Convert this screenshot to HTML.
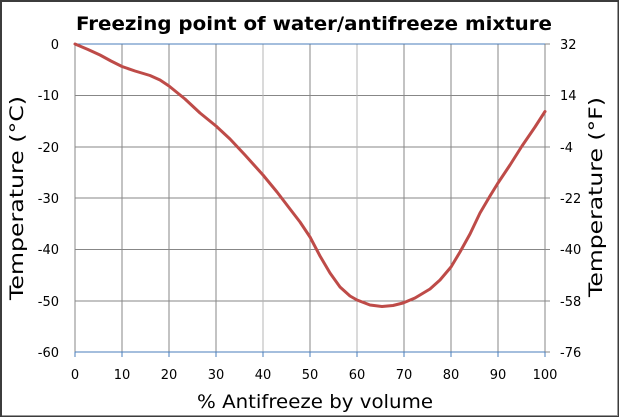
<!DOCTYPE html>
<html><head><meta charset="utf-8"><style>
html,body{margin:0;padding:0;background:#fff;}
svg{display:block;}
text{font-family:"DejaVu Sans","Liberation Sans",sans-serif;fill:#000;}
</style></head><body>
<svg width="620" height="418" viewBox="0 0 620 418" xmlns="http://www.w3.org/2000/svg">
<rect x="0" y="0" width="620" height="418" fill="#fff"/>
<rect x="1" y="1" width="617" height="415" fill="none" stroke="#3c3c3c" stroke-width="2"/>
<line x1="2" y1="415.5" x2="618" y2="415.5" stroke="#9a9a9a" stroke-width="1"/>
<line x1="617.5" y1="2" x2="617.5" y2="416" stroke="#9a9a9a" stroke-width="1"/>

<text x="314" y="30" font-size="19" font-weight="bold" text-anchor="middle" textLength="476" lengthAdjust="spacingAndGlyphs">Freezing point of water/antifreeze mixture</text>

<g stroke="#878787" stroke-width="1" shape-rendering="crispEdges">
<line x1="75" y1="95.5" x2="550" y2="95.5"/>
<line x1="75" y1="147" x2="550" y2="147"/>
<line x1="75" y1="198" x2="550" y2="198"/>
<line x1="75" y1="249.5" x2="550" y2="249.5"/>
<line x1="75" y1="301" x2="550" y2="301"/>
<line x1="545" y1="44" x2="550" y2="44"/>
<line x1="545" y1="352" x2="550" y2="352"/>
<line x1="75" y1="44" x2="75" y2="352"/>
<line x1="122" y1="44" x2="122" y2="352"/>
<line x1="169" y1="44" x2="169" y2="352"/>
<line x1="216" y1="44" x2="216" y2="352"/>
<line x1="263" y1="44" x2="263" y2="352" stroke="#b5b5b5"/>
<line x1="310" y1="44" x2="310" y2="352"/>
<line x1="357" y1="44" x2="357" y2="352" stroke="#b5b5b5"/>
<line x1="404" y1="44" x2="404" y2="352"/>
<line x1="451" y1="44" x2="451" y2="352"/>
<line x1="498" y1="44" x2="498" y2="352"/>
<line x1="545" y1="44" x2="545" y2="352"/>
</g>
<g stroke="#4a7ebb" stroke-width="1" shape-rendering="crispEdges">
<line x1="75" y1="44" x2="545" y2="44"/>
<line x1="75" y1="352" x2="545" y2="352"/>
<line x1="75" y1="352" x2="75" y2="357"/>
<line x1="122" y1="352" x2="122" y2="357"/>
<line x1="169" y1="352" x2="169" y2="357"/>
<line x1="216" y1="352" x2="216" y2="357"/>
<line x1="263" y1="352" x2="263" y2="357"/>
<line x1="310" y1="352" x2="310" y2="357"/>
<line x1="357" y1="352" x2="357" y2="357"/>
<line x1="404" y1="352" x2="404" y2="357"/>
<line x1="451" y1="352" x2="451" y2="357"/>
<line x1="498" y1="352" x2="498" y2="357"/>
<line x1="545" y1="352" x2="545" y2="357"/>
</g>

<polyline fill="none" stroke="#be4b48" stroke-width="3" stroke-linejoin="round" stroke-linecap="round"
points="75,44 88,49.5 100,55 111,61 122,66.5 135,71 150,75.5 160,80 169,86 185,99 200,113 216,126 230,139 245,155 263,175 277,192 290,209 300,222 310,237 320,256 330,273 340,287 350,296 357,300 370,305 382,306.5 393,305.5 403,303 415,298 430,289 440,280 451,267 460,252 470,234 480,213 490,196 498,183 510,165 522,146 535,127 545,111.5"/>

<g font-size="13" text-anchor="end">
<text x="59" y="49">0</text>
<text x="59" y="100">-10</text>
<text x="59" y="152">-20</text>
<text x="59" y="203">-30</text>
<text x="59" y="254">-40</text>
<text x="59" y="306">-50</text>
<text x="59" y="357">-60</text>
</g>
<g font-size="13" text-anchor="start">
<text x="560" y="49">32</text>
<text x="560" y="100">14</text>
<text x="560" y="152">-4</text>
<text x="560" y="203">-22</text>
<text x="560" y="254">-40</text>
<text x="560" y="306">-58</text>
<text x="560" y="357">-76</text>
</g>
<g font-size="13" text-anchor="middle">
<text x="75" y="379">0</text>
<text x="122" y="379">10</text>
<text x="169" y="379">20</text>
<text x="216" y="379">30</text>
<text x="263" y="379">40</text>
<text x="310" y="379">50</text>
<text x="357" y="379">60</text>
<text x="404" y="379">70</text>
<text x="451" y="379">80</text>
<text x="498" y="379">90</text>
<text x="545" y="379">100</text>
</g>

<text x="315" y="408" font-size="19" text-anchor="middle" textLength="236" lengthAdjust="spacingAndGlyphs">% Antifreeze by volume</text>
<text transform="translate(23,198) rotate(-90)" font-size="19" text-anchor="middle" textLength="204" lengthAdjust="spacingAndGlyphs">Temperature (°C)</text>
<text transform="translate(602,197) rotate(-90)" font-size="19" text-anchor="middle" textLength="200" lengthAdjust="spacingAndGlyphs">Temperature (°F)</text>
</svg>
</body></html>
